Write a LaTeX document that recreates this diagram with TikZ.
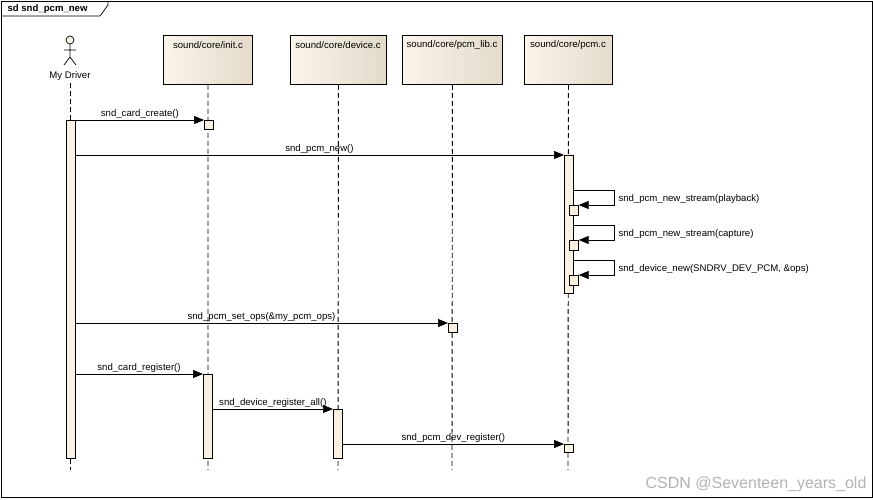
\documentclass[tikz,border=0pt]{standalone}
\usepackage{fontspec}
\setmainfont{Liberation Sans}
\usetikzlibrary{arrows.meta}
\definecolor{act}{HTML}{FAF0E2}
\definecolor{headl}{HTML}{FBF4EA}
\definecolor{headr}{HTML}{E3DACB}
\begin{document}
\begin{tikzpicture}[x=1pt,y=-1pt,font=\fontsize{9.6}{11}\selectfont,
 head/.style={draw,line width=0.9pt,left color=headl,right color=headr,shading angle=90,anchor=north west,inner sep=0pt},
 life/.style={dash pattern=on 5pt off 3pt,line width=0.9pt},
 actv/.style={draw,line width=0.7pt,fill=act,anchor=north west,inner sep=0pt,minimum width=9pt},
 msg/.style={line width=0.7pt,-{Triangle[length=10pt,width=8pt]}},
 lbl/.style={inner sep=1.5pt,anchor=south}]
\useasboundingbox (0,0) rectangle (873,499);
\draw[line width=0.9pt] (1,1) rectangle (872,497);
\draw[line width=0.7pt] (1,16) -- (100,16) -- (108,5) -- (108,1);
\node[anchor=west,font=\fontsize{9.6}{11}\selectfont\bfseries] (title) at (4,9) {sd snd\_pcm\_new};
% heads
\node[head,minimum width=89pt,minimum height=49pt] (hinit) at (163,35) {};
\node (tinit) at (208,45) {sound/core/init.c};
\node[head,minimum width=96pt,minimum height=49pt] (hdev) at (290,35) {};
\node (tdev) at (338,45) {sound/core/device.c};
\node[head,minimum width=100pt,minimum height=49pt] (hlib) at (402,35) {};
\node (tlib) at (452,45) {sound/core/pcm\_lib.c};
\node[head,minimum width=88pt,minimum height=49pt] (hpcm) at (524,35) {};
\node (tpcm) at (568,45) {sound/core/pcm.c};
% actor
\draw[line width=0.7pt,fill=act] (70,40) circle (4);
\draw[line width=0.7pt] (70,44)--(70,57) (64,50)--(76,50) (64,65)--(70,57)--(76,65);
\node (tdrv) at (70,76) {My Driver};
% lifelines
\coordinate (e1) at (70,470); \coordinate (s1) at (70,83);
\draw[life] (s1)--(e1);
\draw[life] (hinit.south)--(208,470);
\draw[life] (hdev.south)--(338,470);
\draw[life] (hlib.south)--(452,470);
\draw[life] (hpcm.south)--(568,470);
% activations
\node[actv,minimum height=338pt] (adrv) at (66,120) {};
\node[actv,minimum height=9pt] (ainit1) at (204,120) {};
\node[actv,minimum height=138pt] (apcm) at (564,155) {};
\node[actv,minimum height=10pt] (ps1) at (569,205) {};
\node[actv,minimum height=10pt] (ps2) at (569,240) {};
\node[actv,minimum height=10pt] (ps3) at (569,275) {};
\node[actv,minimum height=9pt] (alib) at (448,323) {};
\node[actv,minimum height=84pt] (ainit2) at (203,374) {};
\node[actv,minimum height=49pt] (adev) at (333,409) {};
\node[actv,minimum height=8pt] (apcm2) at (564,444) {};
% messages
\draw[msg] (adrv.north east) -- node[lbl]{snd\_card\_create()} (ainit1.north west);
\draw[msg] (75,155) -- node[lbl]{snd\_pcm\_new()} (apcm.north west);
\draw[msg] (573,190) -- (614,190) -- (614,205) -- (ps1.north east);
\node[anchor=west] (l1) at (615,199) {snd\_pcm\_new\_stream(playback)};
\draw[msg] (573,225) -- (614,225) -- (614,240) -- (ps2.north east);
\node[anchor=west] (l2) at (615,234) {snd\_pcm\_new\_stream(capture)};
\draw[msg] (573,260) -- (614,260) -- (614,275) -- (ps3.north east);
\node[anchor=west] (l3) at (615,269) {snd\_device\_new(SNDRV\_DEV\_PCM, \&ops)};
\draw[msg] (75,323) -- node[lbl]{snd\_pcm\_set\_ops(\&my\_pcm\_ops)} (alib.north west);
\draw[msg] (75,374) -- node[lbl]{snd\_card\_register()} (ainit2.north west);
\draw[msg] (ainit2.east |- 0,409) -- node[lbl]{snd\_device\_register\_all()} (adev.north west);
\draw[msg] (adev.east |- 0,444) -- node[lbl]{snd\_pcm\_dev\_register()} (apcm2.north west);
\node[anchor=east,text=gray!60,font=\fontsize{16}{18}\selectfont] (wm) at (870,484) {CSDN @Seventeen\_years\_old};
\end{tikzpicture}
\end{document}
